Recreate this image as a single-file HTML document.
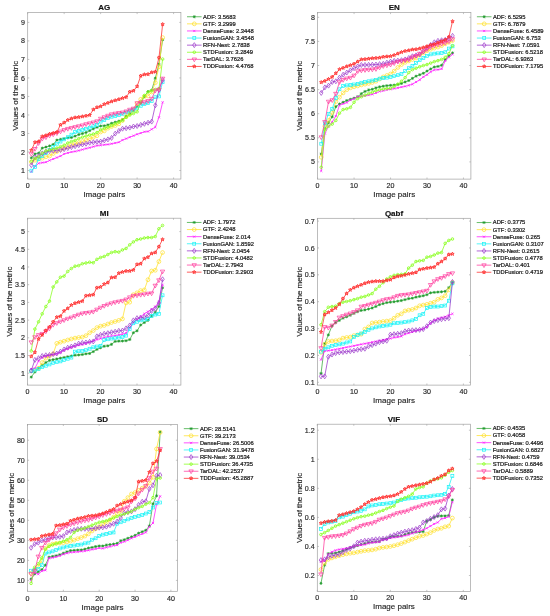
<!DOCTYPE html>
<html lang="en"><head><meta charset="utf-8"><title>Metrics</title>
<style>html,body{margin:0;padding:0;background:#fff}svg{display:block}text{font-family:"Liberation Sans",sans-serif}.k{font-size:7.1px;fill:#262626;stroke:#262626;stroke-width:.15px}.l{font-size:8px;fill:#262626;stroke:#262626;stroke-width:.15px}.t{font-size:8px;font-weight:bold;fill:#111;stroke:#111;stroke-width:.15px}.g{font-size:5.8px;fill:#1c1c1c;stroke:#1c1c1c;stroke-width:.22px}.s{fill:none;stroke-width:0.75;stroke-linejoin:round}</style></head><body>
<svg width="550" height="616" viewBox="0 0 550 616">
<defs>
<marker id="m0" markerUnits="userSpaceOnUse" markerWidth="8" markerHeight="8" refX="0" refY="0" viewBox="-4 -4 8 8" overflow="visible"><path d="M-1.5 -0L1.5 0M-1.06 -1.06L1.06 1.06M-0 -1.5L0 1.5M1.06 -1.06L-1.06 1.06" stroke="#1f9a2c" stroke-width="0.75" fill="none"/></marker>
<marker id="m1" markerUnits="userSpaceOnUse" markerWidth="8" markerHeight="8" refX="0" refY="0" viewBox="-4 -4 8 8" overflow="visible"><circle r="1.9" stroke="#ffe02a" stroke-width="0.7" fill="none"/></marker>
<marker id="m2" markerUnits="userSpaceOnUse" markerWidth="8" markerHeight="8" refX="0" refY="0" viewBox="-4 -4 8 8" overflow="visible"><path d="M-1.1 -1.1L1.1 1.1M-1.1 1.1L1.1 -1.1" stroke="#ff18ff" stroke-width="0.7" fill="none"/></marker>
<marker id="m3" markerUnits="userSpaceOnUse" markerWidth="8" markerHeight="8" refX="0" refY="0" viewBox="-4 -4 8 8" overflow="visible"><rect x="-1.45" y="-1.45" width="2.9" height="2.9" stroke="#19f3f7" stroke-width="0.7" fill="none"/></marker>
<marker id="m4" markerUnits="userSpaceOnUse" markerWidth="8" markerHeight="8" refX="0" refY="0" viewBox="-4 -4 8 8" overflow="visible"><path d="M0 -2.5L1.7 0L0 2.5L-1.7 0Z" stroke="#9a35c9" stroke-width="0.7" fill="none"/></marker>
<marker id="m5" markerUnits="userSpaceOnUse" markerWidth="8" markerHeight="8" refX="0" refY="0" viewBox="-4 -4 8 8" overflow="visible"><circle r="1.3" stroke="#86ff1a" stroke-width="0.8" fill="none"/></marker>
<marker id="m6" markerUnits="userSpaceOnUse" markerWidth="8" markerHeight="8" refX="0" refY="0" viewBox="-4 -4 8 8" overflow="visible"><path d="M-2.2 -1.32L2.2 -1.32L0 2.42Z" stroke="#ff3a9c" stroke-width="0.7" fill="none"/></marker>
<marker id="m7" markerUnits="userSpaceOnUse" markerWidth="8" markerHeight="8" refX="0" refY="0" viewBox="-4 -4 8 8" overflow="visible"><path d="M0 -1.8L0.42 -0.58L1.71 -0.56L0.68 0.22L1.06 1.46L0 0.72L-1.06 1.46L-0.68 0.22L-1.71 -0.56L-0.42 -0.58Z" stroke="#ff2a2a" stroke-width="0.85" fill="none"/></marker>
</defs>
<rect width="550" height="616" fill="#fff"/>
<g>
<polyline class="s" points="31.35,157.84 34.99,153.91 38.64,153.18 42.29,148.09 45.94,147.07 49.58,145.91 53.23,144.45 56.88,140.09 60.52,139.36 64.17,138.64 67.82,137.91 71.46,137.47 75.11,136.16 78.76,134.56 82.41,133.55 86.05,132.53 89.7,130.64 93.35,128.75 96.99,127.29 100.64,126 104.29,125.8 107.93,124.9 111.58,123.3 115.23,122.2 118.88,121.1 122.52,119.5 126.17,116.2 129.82,113.5 133.46,110.7 137.11,106.4 140.76,103.1 144.4,96.5 148.05,91.5 151.7,90.2 155.34,78.2 158.99,64.1 162.64,39.8" stroke="#35a83a" marker-start="url(#m0)" marker-mid="url(#m0)" marker-end="url(#m0)"/>
<polyline class="s" points="31.35,162 34.99,160.2 38.64,159 42.29,158.2 45.94,156.8 49.58,156 53.23,153.5 56.88,151.52 60.52,149.55 64.17,148.09 67.82,146.64 71.46,145.18 75.11,143.73 78.76,142.64 82.41,141.55 86.05,140.09 89.7,138.64 93.35,137.18 96.99,135.73 100.64,132 104.29,130.9 107.93,128.2 111.58,126.5 115.23,125.5 118.88,123.8 122.52,120.5 126.17,116.7 129.82,113.5 133.46,109.6 137.11,103.6 140.76,99.3 144.4,96.5 148.05,96 151.7,92 155.34,82.7 158.99,66.8 162.64,37.6" stroke="#ffe02a" marker-start="url(#m1)" marker-mid="url(#m1)" marker-end="url(#m1)"/>
<polyline class="s" points="31.35,171.8 34.99,166.27 38.64,163.36 42.29,162.64 45.94,162.2 49.58,160.45 53.23,159 56.88,157.55 60.52,156.09 64.17,153.91 67.82,152.89 71.46,152.02 75.11,151.44 78.76,150.56 82.41,149.55 86.05,148.53 89.7,147.65 93.35,146.64 96.99,145.62 100.64,145.18 104.29,144.75 107.93,144.45 111.58,143.73 115.23,143 118.88,142.27 122.52,140.09 126.17,138.64 129.82,137.18 133.46,135.73 137.11,134.27 140.76,133.11 144.4,131.8 148.05,131.5 151.7,129.3 155.34,127.1 158.99,117.3 162.64,102.3" stroke="#ff18ff" marker-start="url(#m2)" marker-mid="url(#m2)" marker-end="url(#m2)"/>
<polyline class="s" points="31.35,170.64 34.99,167 38.64,159 42.29,156.09 45.94,153.18 49.58,150.03 53.23,146.88 56.88,143.73 60.52,141.55 64.17,139.36 67.82,137.18 71.46,134.64 75.11,132.09 78.76,131 82.41,129.91 86.05,128.82 89.7,127.73 93.35,126.27 96.99,124.82 100.64,121.6 104.29,120 107.93,118.1 111.58,116.7 115.23,116 118.88,114.9 122.52,113.8 126.17,112.4 129.82,110.7 133.46,109.6 137.11,108.3 140.76,105.8 144.4,104.2 148.05,103.1 151.7,100.9 155.34,97.2 158.99,96.4 162.64,82" stroke="#19f3f7" marker-start="url(#m3)" marker-mid="url(#m3)" marker-end="url(#m3)"/>
<polyline class="s" points="31.35,165.11 34.99,157.25 38.64,155.95 42.29,153.33 45.94,151.73 49.58,151 53.23,150.71 56.88,150.42 60.52,149.98 64.17,149.11 67.82,148.09 71.46,147.07 75.11,146.2 78.76,145.18 82.41,144.45 86.05,143.73 89.7,142.71 93.35,142.27 96.99,141.84 100.64,141.55 104.29,140.38 107.93,139.36 111.58,137.91 115.23,133.6 118.88,130.9 122.52,128.7 126.17,128.2 129.82,127.6 133.46,126.5 137.11,126 140.76,124.9 144.4,123.8 148.05,122.7 151.7,121.6 155.34,105.3 158.99,90 162.64,80" stroke="#9a35c9" marker-start="url(#m4)" marker-mid="url(#m4)" marker-end="url(#m4)"/>
<polyline class="s" points="31.35,161.18 34.99,158.27 38.64,156.82 42.29,153.18 45.94,151 49.58,149.98 53.23,149.11 56.88,148.09 60.52,146.64 64.17,145.18 67.82,143 71.46,141.55 75.11,140.38 78.76,138.64 82.41,137.18 86.05,136.02 89.7,135 93.35,133.98 96.99,132.53 100.64,129.8 104.29,128.2 107.93,127.1 111.58,125.5 115.23,123.8 118.88,122.2 122.52,120.5 126.17,117.3 129.82,115.1 133.46,113.5 137.11,111.8 140.76,102 144.4,95.5 148.05,92 151.7,90.8 155.34,89.5 158.99,88.6 162.64,59.1" stroke="#86ff1a" marker-start="url(#m5)" marker-mid="url(#m5)" marker-end="url(#m5)"/>
<polyline class="s" points="31.35,153.91 34.99,148.82 38.64,143 42.29,138.64 45.94,137.18 49.58,135.44 53.23,134.27 56.88,133.11 60.52,131.36 64.17,129.91 67.82,128.75 71.46,127.87 75.11,127 78.76,126.13 82.41,125.25 86.05,124.09 89.7,123.22 93.35,122.35 96.99,121.18 100.64,118.6 104.29,117.1 107.93,115.6 111.58,114.2 115.23,113.5 118.88,112.9 122.52,112.4 126.17,111.3 129.82,109.6 133.46,108.5 137.11,103.1 140.76,102.5 144.4,102 148.05,100.9 151.7,98.7 155.34,90.5 158.99,89.5 162.64,78.5" stroke="#ff3a9c" marker-start="url(#m6)" marker-mid="url(#m6)" marker-end="url(#m6)"/>
<polyline class="s" points="31.35,150.27 34.99,142.27 38.64,141.55 42.29,136.45 45.94,135.44 49.58,133.98 53.23,133.11 56.88,132.09 60.52,124.82 64.17,122.64 67.82,120.02 71.46,118.56 75.11,117.55 78.76,117.11 82.41,116.53 86.05,115.8 89.7,115.07 93.35,109.55 96.99,107.36 100.64,106.4 104.29,104.2 107.93,102.9 111.58,101.5 115.23,100.4 118.88,99.3 122.52,98.2 126.17,97.1 129.82,91.8 133.46,90.8 137.11,86.4 140.76,75.8 144.4,74.5 148.05,74.2 151.7,72.4 155.34,71.8 158.99,57.7 162.64,24.3" stroke="#ff2a2a" marker-start="url(#m7)" marker-mid="url(#m7)" marker-end="url(#m7)"/>
<rect x="27.7" y="12.5" width="153.2" height="166.55" fill="none" stroke="#a0a0a0" stroke-width="0.7"/>
<text class="k" x="27.7" y="187.85" text-anchor="middle">0</text>
<text class="k" x="64.17" y="187.85" text-anchor="middle">10</text>
<text class="k" x="100.64" y="187.85" text-anchor="middle">20</text>
<text class="k" x="137.11" y="187.85" text-anchor="middle">30</text>
<text class="k" x="173.58" y="187.85" text-anchor="middle">40</text>
<text class="k" x="25" y="173.05" text-anchor="end">1</text>
<text class="k" x="25" y="154.54" text-anchor="end">2</text>
<text class="k" x="25" y="136.03" text-anchor="end">3</text>
<text class="k" x="25" y="117.52" text-anchor="end">4</text>
<text class="k" x="25" y="99.01" text-anchor="end">5</text>
<text class="k" x="25" y="80.5" text-anchor="end">6</text>
<text class="k" x="25" y="61.99" text-anchor="end">7</text>
<text class="k" x="25" y="43.48" text-anchor="end">8</text>
<text class="k" x="25" y="24.97" text-anchor="end">9</text>
<path d="M27.7 179.05v-1.6M27.7 12.5v1.6M64.17 179.05v-1.6M64.17 12.5v1.6M100.64 179.05v-1.6M100.64 12.5v1.6M137.11 179.05v-1.6M137.11 12.5v1.6M173.58 179.05v-1.6M173.58 12.5v1.6M27.7 170.5h1.6M180.9 170.5h-1.6M27.7 151.99h1.6M180.9 151.99h-1.6M27.7 133.48h1.6M180.9 133.48h-1.6M27.7 114.97h1.6M180.9 114.97h-1.6M27.7 96.46h1.6M180.9 96.46h-1.6M27.7 77.95h1.6M180.9 77.95h-1.6M27.7 59.44h1.6M180.9 59.44h-1.6M27.7 40.93h1.6M180.9 40.93h-1.6M27.7 22.42h1.6M180.9 22.42h-1.6" stroke="#a0a0a0" stroke-width="0.6" fill="none"/>
<text class="l" x="104.3" y="196.85" text-anchor="middle">Image pairs</text>
<text class="l" transform="translate(18.3 95.78) rotate(-90)" text-anchor="middle">Values of the metric</text>
<text class="t" x="104.3" y="10.4" text-anchor="middle">AG</text>
<polyline class="s" points="187,16.75 194.3,16.75 201.6,16.75" stroke="#35a83a" marker-mid="url(#m0)"/>
<text class="g" x="203.1" y="18.65">ADF: 3.5683</text>
<polyline class="s" points="187,23.85 194.3,23.85 201.6,23.85" stroke="#ffe02a" marker-mid="url(#m1)"/>
<text class="g" x="203.1" y="25.75">GTF: 3.2999</text>
<polyline class="s" points="187,30.95 194.3,30.95 201.6,30.95" stroke="#ff18ff" marker-mid="url(#m2)"/>
<text class="g" x="203.1" y="32.85">DenseFuse: 2.3448</text>
<polyline class="s" points="187,38.05 194.3,38.05 201.6,38.05" stroke="#19f3f7" marker-mid="url(#m3)"/>
<text class="g" x="203.1" y="39.95">FusionGAN: 3.4548</text>
<polyline class="s" points="187,45.15 194.3,45.15 201.6,45.15" stroke="#9a35c9" marker-mid="url(#m4)"/>
<text class="g" x="203.1" y="47.05">RFN-Nest: 2.7838</text>
<polyline class="s" points="187,52.25 194.3,52.25 201.6,52.25" stroke="#86ff1a" marker-mid="url(#m5)"/>
<text class="g" x="203.1" y="54.15">STDFusion: 3.2849</text>
<polyline class="s" points="187,59.35 194.3,59.35 201.6,59.35" stroke="#ff3a9c" marker-mid="url(#m6)"/>
<text class="g" x="203.1" y="61.25">TarDAL: 3.7626</text>
<polyline class="s" points="187,66.45 194.3,66.45 201.6,66.45" stroke="#ff2a2a" marker-mid="url(#m7)"/>
<text class="g" x="203.1" y="68.35">TDDFusion: 4.4768</text>
</g>
<g>
<polyline class="s" points="321.25,153.91 324.89,128.45 328.54,122.64 332.19,116.82 335.84,106.64 339.48,104.02 343.13,102.27 346.78,100.53 350.42,99.36 354.07,98.2 357.72,96.75 361.36,93.64 365.01,91.45 368.66,90 372.31,89.27 375.95,87.82 379.6,86.8 383.25,86.22 386.89,85.64 390.54,85.35 394.19,85.05 397.83,84.47 401.48,83.45 405.13,82 408.78,80.55 412.42,78.36 416.07,76.18 419.72,74.73 423.36,73.27 427.01,71.09 430.66,68.91 434.3,67.02 437.95,66.44 441.6,65.27 445.25,59.45 448.89,55.82 452.54,52.91" stroke="#35a83a" marker-start="url(#m0)" marker-mid="url(#m0)" marker-end="url(#m0)"/>
<polyline class="s" points="321.25,157.25 324.89,126.27 328.54,120.45 332.19,112.45 335.84,101.55 339.48,97.18 343.13,92.91 346.78,89.71 350.42,87.82 354.07,86.8 357.72,85.93 361.36,84.91 365.01,84.18 368.66,83.45 372.31,82.44 375.95,81.27 379.6,79.09 383.25,76.91 386.89,75.45 390.54,74 394.19,71.09 397.83,67.45 401.48,64.55 405.13,62.36 408.78,60.91 412.42,59.45 416.07,58 419.72,55.09 423.36,52.91 427.01,50.73 430.66,49.27 434.3,48.11 437.95,47.09 441.6,45.64 445.25,43.75 448.89,42.29 452.54,40.55" stroke="#ffe02a" marker-start="url(#m1)" marker-mid="url(#m1)" marker-end="url(#m1)"/>
<polyline class="s" points="321.25,170.93 324.89,133.55 328.54,126.27 332.19,121.91 335.84,116.09 339.48,105.18 343.13,103.73 346.78,102.56 350.42,100.09 354.07,98.64 357.72,96.75 361.36,96.16 365.01,95.73 368.66,95.09 372.31,94.36 375.95,92.91 379.6,91.45 383.25,90.73 386.89,89.71 390.54,89.27 394.19,88.55 397.83,87.82 401.48,87.09 405.13,86.36 408.78,85.35 412.42,84.18 416.07,82 419.72,79.82 423.36,76.91 427.01,74.73 430.66,71.82 434.3,69.93 437.95,69.64 441.6,68.91 445.25,60.91 448.89,57.27 452.54,54.36" stroke="#ff18ff" marker-start="url(#m2)" marker-mid="url(#m2)" marker-end="url(#m2)"/>
<polyline class="s" points="321.25,143.73 324.89,123.36 328.54,113.91 332.19,108.82 335.84,97.91 339.48,89.27 343.13,85.93 346.78,85.35 350.42,84.91 354.07,84.47 357.72,83.89 361.36,82.73 365.01,82 368.66,81.27 372.31,80.55 375.95,79.82 379.6,78.65 383.25,78.07 386.89,77.64 390.54,76.91 394.19,76.18 397.83,75.16 401.48,74 405.13,71.09 408.78,68.18 412.42,66 416.07,63.09 419.72,60.18 423.36,58 427.01,55.82 430.66,54.36 434.3,53.64 437.95,53.35 441.6,52.91 445.25,52.18 448.89,48.55 452.54,46.36" stroke="#19f3f7" marker-start="url(#m3)" marker-mid="url(#m3)" marker-end="url(#m3)"/>
<polyline class="s" points="321.25,92.91 324.89,87.38 328.54,85.64 332.19,82 335.84,81.27 339.48,77.64 343.13,74.73 346.78,72.55 350.42,70.36 354.07,68.18 357.72,66.44 361.36,64.98 365.01,64.98 368.66,64.84 372.31,64.69 375.95,64.55 379.6,64.11 383.25,63.82 386.89,62.65 390.54,61.64 394.19,60.91 397.83,60.62 401.48,60.18 405.13,59.45 408.78,58 412.42,56.25 416.07,55.38 419.72,54.36 423.36,51.45 427.01,47.82 430.66,44.91 434.3,42.29 437.95,40.84 441.6,40.25 445.25,39.82 448.89,38.36 452.54,35.89" stroke="#9a35c9" marker-start="url(#m4)" marker-mid="url(#m4)" marker-end="url(#m4)"/>
<polyline class="s" points="321.25,167.29 324.89,129.91 328.54,126.27 332.19,124.09 335.84,120.45 339.48,113.18 343.13,109.55 346.78,108.82 350.42,107.36 354.07,102.27 357.72,98.64 361.36,96.75 365.01,95.09 368.66,93.64 372.31,92.18 375.95,90.73 379.6,89.71 383.25,88.98 386.89,88.55 390.54,88.25 394.19,86.36 397.83,84.18 401.48,81.27 405.13,77.64 408.78,72.55 412.42,69.64 416.07,68.18 419.72,66.73 423.36,65.56 427.01,64.55 430.66,63.09 434.3,61.64 437.95,60.62 441.6,59.45 445.25,57.27 448.89,53.64 452.54,45.64" stroke="#86ff1a" marker-start="url(#m5)" marker-mid="url(#m5)" marker-end="url(#m5)"/>
<polyline class="s" points="321.25,137.18 324.89,121.91 328.54,101.55 332.19,100.09 335.84,93.64 339.48,82 343.13,79.82 346.78,78.36 350.42,77.64 354.07,75.45 357.72,71.09 361.36,70.36 365.01,69.93 368.66,69.64 372.31,69.35 375.95,68.91 379.6,67.45 383.25,66 386.89,65.27 390.54,64.55 394.19,63.09 397.83,61.64 401.48,60.91 405.13,60.18 408.78,59.45 412.42,57.27 416.07,55.82 419.72,53.64 423.36,51.45 427.01,49.27 430.66,47.09 434.3,45.64 437.95,44.62 441.6,43.75 445.25,42.73 448.89,41.27 452.54,39.09" stroke="#ff3a9c" marker-start="url(#m6)" marker-mid="url(#m6)" marker-end="url(#m6)"/>
<polyline class="s" points="321.25,82.29 324.89,80.98 328.54,79.09 332.19,76.91 335.84,73.27 339.48,69.35 343.13,67.89 346.78,66.44 350.42,65.27 354.07,63.82 357.72,61.64 361.36,59.45 365.01,59.16 368.66,58.73 372.31,58.29 375.95,58 379.6,57.71 383.25,56.84 386.89,56.55 390.54,56.25 394.19,55.09 397.83,53.64 401.48,52.18 405.13,51.02 408.78,50.44 412.42,49.56 416.07,49.27 419.72,48.55 423.36,47.53 427.01,46.36 430.66,44.91 434.3,44.18 437.95,42.73 441.6,41.27 445.25,39.82 448.89,36.91 452.54,21.35" stroke="#ff2a2a" marker-start="url(#m7)" marker-mid="url(#m7)" marker-end="url(#m7)"/>
<rect x="317.6" y="12.5" width="153.3" height="166.6" fill="none" stroke="#a0a0a0" stroke-width="0.7"/>
<text class="k" x="317.6" y="187.9" text-anchor="middle">0</text>
<text class="k" x="354.07" y="187.9" text-anchor="middle">10</text>
<text class="k" x="390.54" y="187.9" text-anchor="middle">20</text>
<text class="k" x="427.01" y="187.9" text-anchor="middle">30</text>
<text class="k" x="463.48" y="187.9" text-anchor="middle">40</text>
<text class="k" x="314.9" y="164.45" text-anchor="end">5</text>
<text class="k" x="314.9" y="140.35" text-anchor="end">5.5</text>
<text class="k" x="314.9" y="116.25" text-anchor="end">6</text>
<text class="k" x="314.9" y="92.15" text-anchor="end">6.5</text>
<text class="k" x="314.9" y="68.05" text-anchor="end">7</text>
<text class="k" x="314.9" y="43.95" text-anchor="end">7.5</text>
<text class="k" x="314.9" y="19.85" text-anchor="end">8</text>
<path d="M317.6 179.1v-1.6M317.6 12.5v1.6M354.07 179.1v-1.6M354.07 12.5v1.6M390.54 179.1v-1.6M390.54 12.5v1.6M427.01 179.1v-1.6M427.01 12.5v1.6M463.48 179.1v-1.6M463.48 12.5v1.6M317.6 161.9h1.6M470.9 161.9h-1.6M317.6 137.8h1.6M470.9 137.8h-1.6M317.6 113.7h1.6M470.9 113.7h-1.6M317.6 89.6h1.6M470.9 89.6h-1.6M317.6 65.5h1.6M470.9 65.5h-1.6M317.6 41.4h1.6M470.9 41.4h-1.6M317.6 17.3h1.6M470.9 17.3h-1.6" stroke="#a0a0a0" stroke-width="0.6" fill="none"/>
<text class="l" x="394.25" y="196.9" text-anchor="middle">Image pairs</text>
<text class="l" transform="translate(301.9 95.8) rotate(-90)" text-anchor="middle">Values of the metric</text>
<text class="t" x="394.25" y="10.4" text-anchor="middle">EN</text>
<polyline class="s" points="476.9,16.75 484.2,16.75 491.5,16.75" stroke="#35a83a" marker-mid="url(#m0)"/>
<text class="g" x="493" y="18.65">ADF: 6.5295</text>
<polyline class="s" points="476.9,23.85 484.2,23.85 491.5,23.85" stroke="#ffe02a" marker-mid="url(#m1)"/>
<text class="g" x="493" y="25.75">GTF: 6.7879</text>
<polyline class="s" points="476.9,30.95 484.2,30.95 491.5,30.95" stroke="#ff18ff" marker-mid="url(#m2)"/>
<text class="g" x="493" y="32.85">DenseFuse: 6.4589</text>
<polyline class="s" points="476.9,38.05 484.2,38.05 491.5,38.05" stroke="#19f3f7" marker-mid="url(#m3)"/>
<text class="g" x="493" y="39.95">FusionGAN: 6.753</text>
<polyline class="s" points="476.9,45.15 484.2,45.15 491.5,45.15" stroke="#9a35c9" marker-mid="url(#m4)"/>
<text class="g" x="493" y="47.05">RFN-Nest: 7.0591</text>
<polyline class="s" points="476.9,52.25 484.2,52.25 491.5,52.25" stroke="#86ff1a" marker-mid="url(#m5)"/>
<text class="g" x="493" y="54.15">STDFusion: 6.5218</text>
<polyline class="s" points="476.9,59.35 484.2,59.35 491.5,59.35" stroke="#ff3a9c" marker-mid="url(#m6)"/>
<text class="g" x="493" y="61.25">TarDAL: 6.9363</text>
<polyline class="s" points="476.9,66.45 484.2,66.45 491.5,66.45" stroke="#ff2a2a" marker-mid="url(#m7)"/>
<text class="g" x="493" y="68.35">TDDFusion: 7.1795</text>
</g>
<g>
<polyline class="s" points="31.25,377.09 34.89,372 38.54,368.07 42.19,365.16 45.84,362.55 49.48,360.36 53.13,359.64 56.78,358.91 60.42,358.18 64.07,357.45 67.72,356.73 71.36,356 75.01,355.27 78.66,354.98 82.31,354.55 85.95,353.82 89.6,353.53 93.25,351.64 96.89,349.45 100.54,347.71 104.19,346.25 107.83,345.82 111.48,344.36 115.13,341.45 118.78,341.16 122.42,341.02 126.07,340.73 129.72,339.56 133.36,332.73 137.01,330.84 140.66,325.02 144.3,322.55 147.95,320.36 151.6,316 155.25,312.36 158.89,306.55 162.54,287.73" stroke="#35a83a" marker-start="url(#m0)" marker-mid="url(#m0)" marker-end="url(#m0)"/>
<polyline class="s" points="31.25,370.98 34.89,369.82 38.54,368.36 42.19,362.55 45.84,358.18 49.48,356 53.13,353.82 56.78,343.35 60.42,342.18 64.07,341.16 67.72,340 71.36,338.98 75.01,338.11 78.66,337.53 82.31,337.09 85.95,335.64 89.6,332.73 93.25,330.55 96.89,327.64 100.54,326.18 104.19,325.45 107.83,324 111.48,322.55 115.13,321.53 118.78,320.36 122.42,318.91 126.07,302.91 129.72,302.18 133.36,294.71 137.01,292.82 140.66,290.64 144.3,289.91 147.95,279.73 151.6,271 155.25,270.27 158.89,261.55 162.54,252.53" stroke="#ffe02a" marker-start="url(#m1)" marker-mid="url(#m1)" marker-end="url(#m1)"/>
<polyline class="s" points="31.25,369.09 34.89,368.36 38.54,361.09 42.19,357.45 45.84,356 49.48,355.27 53.13,354.55 56.78,353.82 60.42,352.36 64.07,350.18 67.72,348.73 71.36,347.27 75.01,346.25 78.66,345.09 82.31,344.36 85.95,343.35 89.6,342.18 93.25,341.02 96.89,339.56 100.54,338.55 104.19,337.53 107.83,336.65 111.48,336.07 115.13,335.64 118.78,334.91 122.42,334.18 126.07,333.16 129.72,327.64 133.36,322.55 137.01,319.64 140.66,316.73 144.3,313.82 147.95,311.64 151.6,309.45 155.25,306.55 158.89,302.18 162.54,284.82" stroke="#ff18ff" marker-start="url(#m2)" marker-mid="url(#m2)" marker-end="url(#m2)"/>
<polyline class="s" points="31.25,371.27 34.89,370.4 38.54,369.09 42.19,367.2 45.84,365.75 49.48,364.44 53.13,362.84 56.78,362.11 60.42,361.38 64.07,359.93 67.72,358.76 71.36,357.6 75.01,351.64 78.66,351.2 82.31,350.91 85.95,350.18 89.6,348.73 93.25,347.27 96.89,346.55 100.54,345.82 104.19,340 107.83,339.27 111.48,338.55 115.13,338.11 118.78,337.53 122.42,337.09 126.07,335.64 129.72,329.09 133.36,323.27 137.01,321.82 140.66,320.36 144.3,319.64 147.95,318.91 151.6,316 155.25,314.55 158.89,313.82 162.54,295.29" stroke="#19f3f7" marker-start="url(#m3)" marker-mid="url(#m3)" marker-end="url(#m3)"/>
<polyline class="s" points="31.25,370.55 34.89,359.93 38.54,358.18 42.19,356 45.84,355.27 49.48,354.98 53.13,354.11 56.78,353.53 60.42,351.64 64.07,349.45 67.72,347.71 71.36,346.55 75.01,345.38 78.66,343.64 82.31,342.91 85.95,342.47 89.6,341.89 93.25,341.45 96.89,336.36 100.54,334.91 104.19,333.75 107.83,333.16 111.48,332.29 115.13,331.71 118.78,330.84 122.42,330.55 126.07,328.36 129.72,325.45 133.36,320.36 137.01,318.18 140.66,317.75 144.3,317.16 147.95,315.27 151.6,310.91 155.25,308.73 158.89,302.91 162.54,279.29" stroke="#9a35c9" marker-start="url(#m4)" marker-mid="url(#m4)" marker-end="url(#m4)"/>
<polyline class="s" points="31.25,350.91 34.89,329.09 38.54,321.82 42.19,313.82 45.84,306.55 49.48,301.16 53.13,287 56.78,281.91 60.42,277.25 64.07,276.09 67.72,271.44 71.36,268.53 75.01,266.2 78.66,265.62 82.31,263.73 85.95,263 89.6,262.27 93.25,262.71 96.89,259.36 100.54,257.47 104.19,256.45 107.83,254.56 111.48,252.53 115.13,251.65 118.78,252.09 122.42,249.91 126.07,248.45 129.72,244.82 133.36,241.91 137.01,239.73 140.66,239 144.3,237.98 147.95,237.55 151.6,237.55 155.25,236.53 158.89,228.82 162.54,225.47" stroke="#86ff1a" marker-start="url(#m5)" marker-mid="url(#m5)" marker-end="url(#m5)"/>
<polyline class="s" points="31.25,342.18 34.89,337.09 38.54,334.91 42.19,333.75 45.84,331.27 49.48,328.36 53.13,324.73 56.78,322.98 60.42,321.53 64.07,320.07 67.72,318.62 71.36,317.45 75.01,316 78.66,314.55 82.31,313.38 85.95,312.8 89.6,312.36 93.25,311.64 96.89,309.45 100.54,307.56 104.19,305.82 107.83,304.36 111.48,303.2 115.13,302.18 118.78,301.45 122.42,300.73 126.07,299.36 129.72,297.18 133.36,295.73 137.01,295.29 140.66,294.71 144.3,294.27 147.95,293.55 151.6,293.25 155.25,285.55 158.89,280.16 162.54,271.44" stroke="#ff3a9c" marker-start="url(#m6)" marker-mid="url(#m6)" marker-end="url(#m6)"/>
<polyline class="s" points="31.25,356.44 34.89,352.36 38.54,338.98 42.19,334.91 45.84,330.55 49.48,326.91 53.13,321.82 56.78,317.16 60.42,316.29 64.07,310.91 67.72,308.44 71.36,305.09 75.01,303.2 78.66,302.18 82.31,301.16 85.95,295.73 89.6,295.29 93.25,294.71 96.89,287.73 100.54,287 104.19,284.09 107.83,282.64 111.48,277.55 115.13,277.25 118.78,273.18 122.42,272.02 126.07,271 129.72,271 133.36,269.98 137.01,264.45 140.66,263.73 144.3,258.64 147.95,257.18 151.6,253.55 155.25,252.53 158.89,246.71 162.54,239.44" stroke="#ff2a2a" marker-start="url(#m7)" marker-mid="url(#m7)" marker-end="url(#m7)"/>
<rect x="27.6" y="218.2" width="153.3" height="166.9" fill="none" stroke="#a0a0a0" stroke-width="0.7"/>
<text class="k" x="27.6" y="393.9" text-anchor="middle">0</text>
<text class="k" x="64.07" y="393.9" text-anchor="middle">10</text>
<text class="k" x="100.54" y="393.9" text-anchor="middle">20</text>
<text class="k" x="137.01" y="393.9" text-anchor="middle">30</text>
<text class="k" x="173.48" y="393.9" text-anchor="middle">40</text>
<text class="k" x="24.9" y="375.75" text-anchor="end">1</text>
<text class="k" x="24.9" y="358.05" text-anchor="end">1.5</text>
<text class="k" x="24.9" y="340.35" text-anchor="end">2</text>
<text class="k" x="24.9" y="322.65" text-anchor="end">2.5</text>
<text class="k" x="24.9" y="304.95" text-anchor="end">3</text>
<text class="k" x="24.9" y="287.25" text-anchor="end">3.5</text>
<text class="k" x="24.9" y="269.55" text-anchor="end">4</text>
<text class="k" x="24.9" y="251.85" text-anchor="end">4.5</text>
<text class="k" x="24.9" y="234.15" text-anchor="end">5</text>
<path d="M27.6 385.1v-1.6M27.6 218.2v1.6M64.07 385.1v-1.6M64.07 218.2v1.6M100.54 385.1v-1.6M100.54 218.2v1.6M137.01 385.1v-1.6M137.01 218.2v1.6M173.48 385.1v-1.6M173.48 218.2v1.6M27.6 373.2h1.6M180.9 373.2h-1.6M27.6 355.5h1.6M180.9 355.5h-1.6M27.6 337.8h1.6M180.9 337.8h-1.6M27.6 320.1h1.6M180.9 320.1h-1.6M27.6 302.4h1.6M180.9 302.4h-1.6M27.6 284.7h1.6M180.9 284.7h-1.6M27.6 267h1.6M180.9 267h-1.6M27.6 249.3h1.6M180.9 249.3h-1.6M27.6 231.6h1.6M180.9 231.6h-1.6" stroke="#a0a0a0" stroke-width="0.6" fill="none"/>
<text class="l" x="104.25" y="402.9" text-anchor="middle">Image pairs</text>
<text class="l" transform="translate(11.8 301.65) rotate(-90)" text-anchor="middle">Values of the metric</text>
<text class="t" x="104.25" y="216.1" text-anchor="middle">MI</text>
<polyline class="s" points="186.9,222.45 194.2,222.45 201.5,222.45" stroke="#35a83a" marker-mid="url(#m0)"/>
<text class="g" x="203" y="224.35">ADF: 1.7972</text>
<polyline class="s" points="186.9,229.55 194.2,229.55 201.5,229.55" stroke="#ffe02a" marker-mid="url(#m1)"/>
<text class="g" x="203" y="231.45">GTF: 2.4248</text>
<polyline class="s" points="186.9,236.65 194.2,236.65 201.5,236.65" stroke="#ff18ff" marker-mid="url(#m2)"/>
<text class="g" x="203" y="238.55">DenseFuse: 2.014</text>
<polyline class="s" points="186.9,243.75 194.2,243.75 201.5,243.75" stroke="#19f3f7" marker-mid="url(#m3)"/>
<text class="g" x="203" y="245.65">FusionGAN: 1.8592</text>
<polyline class="s" points="186.9,250.85 194.2,250.85 201.5,250.85" stroke="#9a35c9" marker-mid="url(#m4)"/>
<text class="g" x="203" y="252.75">RFN-Nest: 2.0454</text>
<polyline class="s" points="186.9,257.95 194.2,257.95 201.5,257.95" stroke="#86ff1a" marker-mid="url(#m5)"/>
<text class="g" x="203" y="259.85">STDFusion: 4.0482</text>
<polyline class="s" points="186.9,265.05 194.2,265.05 201.5,265.05" stroke="#ff3a9c" marker-mid="url(#m6)"/>
<text class="g" x="203" y="266.95">TarDAL: 2.7943</text>
<polyline class="s" points="186.9,272.15 194.2,272.15 201.5,272.15" stroke="#ff2a2a" marker-mid="url(#m7)"/>
<text class="g" x="203" y="274.05">TDDFusion: 3.2903</text>
</g>
<g>
<polyline class="s" points="321.05,373.45 324.7,343.64 328.35,334.91 332,325.89 335.65,322.55 339.3,320.36 342.95,318.18 346.6,316.73 350.25,315.27 353.9,313.38 357.55,311.64 361.2,310.47 364.85,309.89 368.5,309.02 372.15,308 375.8,306.55 379.45,304.65 383.1,303.64 386.75,302.62 390.4,302.18 394.05,301.75 397.7,301.16 401.35,300.58 405,299.65 408.65,298.64 412.3,298.2 415.95,297.18 419.6,296.45 423.25,295.73 426.9,294.71 430.55,292.82 434.2,292.38 437.85,292.09 441.5,291.8 445.15,291.36 448.8,287.73 452.45,282.2" stroke="#35a83a" marker-start="url(#m0)" marker-mid="url(#m0)" marker-end="url(#m0)"/>
<polyline class="s" points="321.05,352.36 324.7,344.36 328.35,341.45 332,341.02 335.65,340.73 339.3,340 342.95,338.11 346.6,337.53 350.25,337.09 353.9,335.64 357.55,334.91 361.2,334.18 364.85,329.09 368.5,326.91 372.15,322.98 375.8,322.55 379.45,322.11 383.1,321.53 386.75,321.09 390.4,320.65 394.05,318.18 397.7,315.27 401.35,313.82 405,310.91 408.65,310.18 412.3,309.45 415.95,308 419.6,305.82 423.25,305.09 426.9,304.36 430.55,303.2 434.2,302.18 437.85,299.36 441.5,297.91 445.15,295.73 448.8,289.91 452.45,282.64" stroke="#ffe02a" marker-start="url(#m1)" marker-mid="url(#m1)" marker-end="url(#m1)"/>
<polyline class="s" points="321.05,359.64 324.7,350.91 328.35,350.62 332,350.18 335.65,349.45 339.3,348.73 342.95,348 346.6,347.27 350.25,346.55 353.9,345.82 357.55,345.09 361.2,344.36 364.85,343.64 368.5,342.91 372.15,342.18 375.8,341.45 379.45,340.73 383.1,340 386.75,339.27 390.4,338.55 394.05,337.53 397.7,337.09 401.35,336.36 405,334.18 408.65,333.16 412.3,332 415.95,330.84 419.6,329.82 423.25,328.8 426.9,326.91 430.55,323.27 434.2,320.36 437.85,318.62 441.5,317.75 445.15,316.73 448.8,315.27 452.45,313.82" stroke="#ff18ff" marker-start="url(#m2)" marker-mid="url(#m2)" marker-end="url(#m2)"/>
<polyline class="s" points="321.05,351.64 324.7,348.73 328.35,347.27 332,345.82 335.65,345.09 339.3,344.36 342.95,343.64 346.6,342.47 350.25,341.45 353.9,337.09 357.55,334.91 361.2,333.45 364.85,332 368.5,329.82 372.15,328.36 375.8,327.35 379.45,326.47 383.1,325.89 386.75,325.45 390.4,324.73 394.05,323.27 397.7,322.98 401.35,322.55 405,322.11 408.65,321.53 412.3,320.36 415.95,318.91 419.6,315.27 423.25,313.82 426.9,308 430.55,306.98 434.2,306.55 437.85,306.55 441.5,306.11 445.15,305.53 448.8,300.73 452.45,283.36" stroke="#19f3f7" marker-start="url(#m3)" marker-mid="url(#m3)" marker-end="url(#m3)"/>
<polyline class="s" points="321.05,376.36 324.7,376.36 328.35,356.73 332,354.55 335.65,353.09 339.3,352.36 342.95,352.07 346.6,351.64 350.25,351.2 353.9,350.62 357.55,349.75 361.2,349.16 364.85,348.73 368.5,346.25 372.15,345.09 375.8,343.64 379.45,342.18 383.1,341.45 386.75,340.73 390.4,334.62 394.05,334.18 397.7,333.75 401.35,333.16 405,331.27 408.65,330.55 412.3,330.25 415.95,330.11 419.6,329.82 423.25,329.09 426.9,326.18 430.55,322.55 434.2,321.09 437.85,320.07 441.5,319.2 445.15,318.62 448.8,318.18 452.45,281.91" stroke="#9a35c9" marker-start="url(#m4)" marker-mid="url(#m4)" marker-end="url(#m4)"/>
<polyline class="s" points="321.05,324.73 324.7,311.64 328.35,307.27 332,306.55 335.65,306.11 339.3,303.64 342.95,302.18 346.6,301.45 350.25,300.73 353.9,299.65 357.55,298.64 361.2,297.18 364.85,296.45 368.5,295 372.15,293.55 375.8,289.18 379.45,286.27 383.1,282.64 386.75,279 390.4,276.82 394.05,275.36 397.7,274.64 401.35,274.35 405,273.91 408.65,268.09 412.3,265.18 415.95,261.55 419.6,260.82 423.25,260.38 426.9,257.18 430.55,256.45 434.2,255 437.85,253.11 441.5,252.53 445.15,243.36 448.8,240.45 452.45,239" stroke="#86ff1a" marker-start="url(#m5)" marker-mid="url(#m5)" marker-end="url(#m5)"/>
<polyline class="s" points="321.05,348 324.7,326.91 328.35,327.64 332,325.45 335.65,321.82 339.3,317.45 342.95,316 346.6,314.55 350.25,313.38 353.9,311.93 357.55,310.18 361.2,306.55 364.85,305.82 368.5,304.65 372.15,303.64 375.8,302.62 379.45,301.45 383.1,300.09 386.75,299.07 390.4,298.64 394.05,297.18 397.7,295.73 401.35,295 405,294.71 408.65,294.27 412.3,293.55 415.95,292.82 419.6,292.09 423.25,291.36 426.9,290.64 430.55,284.82 434.2,281.18 437.85,279 441.5,277.84 445.15,276.09 448.8,273.91 452.45,273.18" stroke="#ff3a9c" marker-start="url(#m6)" marker-mid="url(#m6)" marker-end="url(#m6)"/>
<polyline class="s" points="321.05,332 324.7,314.55 328.35,312.36 332,310.18 335.65,308 339.3,304.36 342.95,298.64 346.6,293.55 350.25,289.91 353.9,287.73 357.55,286.27 361.2,284.82 364.85,283.36 368.5,282.2 372.15,281.62 375.8,281.18 379.45,281.18 383.1,281.18 386.75,280.45 390.4,279.73 394.05,277.55 397.7,276.38 401.35,275.8 405,274.93 408.65,273.91 412.3,273.18 415.95,272.45 419.6,269.55 423.25,268.82 426.9,268.09 430.55,267.65 434.2,267.07 437.85,263.73 441.5,261.55 445.15,258.64 448.8,254.56 452.45,253.98" stroke="#ff2a2a" marker-start="url(#m7)" marker-mid="url(#m7)" marker-end="url(#m7)"/>
<rect x="317.4" y="218.3" width="153.2" height="166.8" fill="none" stroke="#a0a0a0" stroke-width="0.7"/>
<text class="k" x="317.4" y="393.9" text-anchor="middle">0</text>
<text class="k" x="353.9" y="393.9" text-anchor="middle">10</text>
<text class="k" x="390.4" y="393.9" text-anchor="middle">20</text>
<text class="k" x="426.9" y="393.9" text-anchor="middle">30</text>
<text class="k" x="463.4" y="393.9" text-anchor="middle">40</text>
<text class="k" x="314.7" y="384.85" text-anchor="end">0.1</text>
<text class="k" x="314.7" y="357.98" text-anchor="end">0.2</text>
<text class="k" x="314.7" y="331.11" text-anchor="end">0.3</text>
<text class="k" x="314.7" y="304.24" text-anchor="end">0.4</text>
<text class="k" x="314.7" y="277.37" text-anchor="end">0.5</text>
<text class="k" x="314.7" y="250.5" text-anchor="end">0.6</text>
<text class="k" x="314.7" y="223.63" text-anchor="end">0.7</text>
<path d="M317.4 385.1v-1.6M317.4 218.3v1.6M353.9 385.1v-1.6M353.9 218.3v1.6M390.4 385.1v-1.6M390.4 218.3v1.6M426.9 385.1v-1.6M426.9 218.3v1.6M463.4 385.1v-1.6M463.4 218.3v1.6M317.4 382.3h1.6M470.6 382.3h-1.6M317.4 355.43h1.6M470.6 355.43h-1.6M317.4 328.56h1.6M470.6 328.56h-1.6M317.4 301.69h1.6M470.6 301.69h-1.6M317.4 274.82h1.6M470.6 274.82h-1.6M317.4 247.95h1.6M470.6 247.95h-1.6M317.4 221.08h1.6M470.6 221.08h-1.6" stroke="#a0a0a0" stroke-width="0.6" fill="none"/>
<text class="l" x="394" y="402.9" text-anchor="middle">Image pairs</text>
<text class="l" transform="translate(301.7 301.7) rotate(-90)" text-anchor="middle">Values of the metric</text>
<text class="t" x="394" y="216.2" text-anchor="middle">Qabf</text>
<polyline class="s" points="476.7,222.55 484,222.55 491.3,222.55" stroke="#35a83a" marker-mid="url(#m0)"/>
<text class="g" x="492.8" y="224.45">ADF: 0.3775</text>
<polyline class="s" points="476.7,229.65 484,229.65 491.3,229.65" stroke="#ffe02a" marker-mid="url(#m1)"/>
<text class="g" x="492.8" y="231.55">GTF: 0.3302</text>
<polyline class="s" points="476.7,236.75 484,236.75 491.3,236.75" stroke="#ff18ff" marker-mid="url(#m2)"/>
<text class="g" x="492.8" y="238.65">DenseFuse: 0.265</text>
<polyline class="s" points="476.7,243.85 484,243.85 491.3,243.85" stroke="#19f3f7" marker-mid="url(#m3)"/>
<text class="g" x="492.8" y="245.75">FusionGAN: 0.3107</text>
<polyline class="s" points="476.7,250.95 484,250.95 491.3,250.95" stroke="#9a35c9" marker-mid="url(#m4)"/>
<text class="g" x="492.8" y="252.85">RFN-Nest: 0.2615</text>
<polyline class="s" points="476.7,258.05 484,258.05 491.3,258.05" stroke="#86ff1a" marker-mid="url(#m5)"/>
<text class="g" x="492.8" y="259.95">STDFusion: 0.4778</text>
<polyline class="s" points="476.7,265.15 484,265.15 491.3,265.15" stroke="#ff3a9c" marker-mid="url(#m6)"/>
<text class="g" x="492.8" y="267.05">TarDAL: 0.401</text>
<polyline class="s" points="476.7,272.25 484,272.25 491.3,272.25" stroke="#ff2a2a" marker-mid="url(#m7)"/>
<text class="g" x="492.8" y="274.15">TDDFusion: 0.4719</text>
</g>
<g>
<polyline class="s" points="31.09,579 34.67,573.91 38.25,571.73 41.84,569.55 45.42,565.18 49.01,557.18 52.59,556.45 56.18,555.73 59.77,554.71 63.35,553.25 66.94,551.8 70.52,550.64 74.1,550.35 77.69,550.05 81.28,549.91 84.86,549.18 88.44,548.02 92.03,547.44 95.61,546.56 99.2,545.98 102.78,545.98 106.37,545.11 109.95,544.53 113.54,544.09 117.12,543.36 120.71,540.75 124.3,539.73 127.88,538.27 131.47,536.82 135.05,535.36 138.63,533.18 142.22,531.73 145.81,530.27 149.39,525.91 152.97,503.8 156.56,495.8 160.15,431.9" stroke="#35a83a" marker-start="url(#m0)" marker-mid="url(#m0)" marker-end="url(#m0)"/>
<polyline class="s" points="31.09,573.18 34.67,569.55 38.25,566.64 41.84,560.82 45.42,548.45 49.01,545.55 52.59,544.09 56.18,543.36 59.77,543.07 63.35,542.64 66.94,541.91 70.52,541.18 74.1,540.16 77.69,538.71 81.28,537.55 84.86,536.09 88.44,533.91 92.03,531 95.61,528.82 99.2,526.64 102.78,524.16 106.37,522.27 109.95,520.09 113.54,517.18 117.12,513.55 120.71,510.64 124.3,501.27 127.88,497.64 131.47,494 135.05,492.55 138.63,490.36 142.22,488.18 145.81,486 149.39,483.09 152.97,477.27 156.56,448.91 160.15,432.47" stroke="#ffe02a" marker-start="url(#m1)" marker-mid="url(#m1)" marker-end="url(#m1)"/>
<polyline class="s" points="31.09,580.45 34.67,572.45 38.25,574.2 41.84,571 45.42,570.27 49.01,558.2 52.59,557.62 56.18,556.75 59.77,555.73 63.35,554.27 66.94,553.25 70.52,552.38 74.1,552.09 77.69,551.8 81.28,551.36 84.86,550.93 88.44,550.35 92.03,549.47 95.61,548.89 99.2,548.02 102.78,548.45 106.37,547.44 109.95,546.56 113.54,545.55 117.12,545.11 120.71,542.64 124.3,541.62 127.88,540.16 131.47,538.27 135.05,536.82 138.63,535.36 142.22,533.91 145.81,532.45 149.39,526.64 152.97,523 156.56,504.3 160.15,496.3" stroke="#ff18ff" marker-start="url(#m2)" marker-mid="url(#m2)" marker-end="url(#m2)"/>
<polyline class="s" points="31.09,570.71 34.67,569.84 38.25,568.82 41.84,565.18 45.42,553.55 49.01,552.38 52.59,551.36 56.18,549.91 59.77,548.45 63.35,547.44 66.94,546.56 70.52,545.98 74.1,545.55 77.69,544.82 81.28,544.53 84.86,543.36 88.44,542.64 92.03,539.73 95.61,538.27 99.2,536.09 102.78,534.64 106.37,533.91 109.95,533.18 113.54,532.45 117.12,523.73 120.71,522.27 124.3,520.82 127.88,519.36 131.47,517.91 135.05,516.89 138.63,516.02 142.22,515 145.81,513.55 149.39,512.09 152.97,507.5 156.56,503 160.15,502.5" stroke="#19f3f7" marker-start="url(#m3)" marker-mid="url(#m3)" marker-end="url(#m3)"/>
<polyline class="s" points="31.09,547.73 34.67,544.09 38.25,542.64 41.84,540.45 45.42,539.73 49.01,538.27 52.59,537.55 56.18,537.25 59.77,536.82 63.35,536.09 66.94,532.45 70.52,531 74.1,529.98 77.69,529.11 81.28,528.82 84.86,528.82 88.44,528.82 92.03,528.53 95.61,528.09 99.2,527.65 102.78,527.36 106.37,526.64 109.95,525.18 113.54,523.73 117.12,521.55 120.71,517.91 124.3,512.82 127.88,512.09 131.47,511.36 135.05,509.18 138.63,504.91 142.22,501.71 145.81,501.27 149.39,488.91 152.97,485.27 156.56,475.82 160.15,475.09" stroke="#9a35c9" marker-start="url(#m4)" marker-mid="url(#m4)" marker-end="url(#m4)"/>
<polyline class="s" points="31.09,583.36 34.67,567.36 38.25,563.73 41.84,557.91 45.42,549.18 49.01,546.27 52.59,544.82 56.18,543.65 59.77,542.64 63.35,541.18 66.94,539.73 70.52,537.55 74.1,532.45 77.69,530.27 81.28,529.11 84.86,528.09 88.44,526.64 92.03,525.18 95.61,523.73 99.2,522.27 102.78,521.55 106.37,520.82 109.95,519.36 113.54,517.91 117.12,516.45 120.71,515 124.3,513.98 127.88,512.82 131.47,511.36 135.05,509.18 138.63,507.73 142.22,506.36 145.81,504.18 149.39,502.73 152.97,497.64 156.56,478.73 160.15,478" stroke="#86ff1a" marker-start="url(#m5)" marker-mid="url(#m5)" marker-end="url(#m5)"/>
<polyline class="s" points="31.09,573.91 34.67,571 38.25,556.45 41.84,547.73 45.42,542.64 49.01,539.73 52.59,536.82 56.18,533.18 59.77,529.55 63.35,527.36 66.94,525.91 70.52,524.45 74.1,523.29 77.69,522.27 81.28,521.25 84.86,520.38 88.44,519.8 92.03,518.64 95.61,517.47 99.2,516.45 102.78,515 106.37,513.98 109.95,512.82 113.54,511.65 117.12,510.64 120.71,509.62 124.3,508.45 127.88,507.29 131.47,501.27 135.05,498.36 138.63,493.27 142.22,489.64 145.81,486 149.39,478 152.97,471.45 156.56,468.55 160.15,448.91" stroke="#ff3a9c" marker-start="url(#m6)" marker-mid="url(#m6)" marker-end="url(#m6)"/>
<polyline class="s" points="31.09,539.73 34.67,539.29 38.25,539 41.84,536.09 45.42,535.36 49.01,534.64 52.59,533.91 56.18,525.62 59.77,525.18 63.35,524.45 66.94,523.73 70.52,520.82 74.1,519.8 77.69,518.64 81.28,517.91 84.86,517.18 88.44,516.02 92.03,515.73 95.61,515.44 99.2,514.56 102.78,513.55 106.37,512.09 109.95,510.64 113.54,509.18 117.12,505.64 120.71,504.18 124.3,502.73 127.88,501.71 131.47,500.55 135.05,497.64 138.63,481.64 142.22,480.91 145.81,480.18 149.39,472.18 152.97,463.45 156.56,461.27 160.15,450.36" stroke="#ff2a2a" marker-start="url(#m7)" marker-mid="url(#m7)" marker-end="url(#m7)"/>
<rect x="27.5" y="424.4" width="150" height="166.9" fill="none" stroke="#a0a0a0" stroke-width="0.7"/>
<text class="k" x="27.5" y="600.7" text-anchor="middle">0</text>
<text class="k" x="63.35" y="600.7" text-anchor="middle">10</text>
<text class="k" x="99.2" y="600.7" text-anchor="middle">20</text>
<text class="k" x="135.05" y="600.7" text-anchor="middle">30</text>
<text class="k" x="170.9" y="600.7" text-anchor="middle">40</text>
<text class="k" x="24.8" y="582.95" text-anchor="end">10</text>
<text class="k" x="24.8" y="562.92" text-anchor="end">20</text>
<text class="k" x="24.8" y="542.89" text-anchor="end">30</text>
<text class="k" x="24.8" y="522.86" text-anchor="end">40</text>
<text class="k" x="24.8" y="502.83" text-anchor="end">50</text>
<text class="k" x="24.8" y="482.8" text-anchor="end">60</text>
<text class="k" x="24.8" y="462.77" text-anchor="end">70</text>
<text class="k" x="24.8" y="442.74" text-anchor="end">80</text>
<path d="M27.5 591.3v-1.6M27.5 424.4v1.6M63.35 591.3v-1.6M63.35 424.4v1.6M99.2 591.3v-1.6M99.2 424.4v1.6M135.05 591.3v-1.6M135.05 424.4v1.6M170.9 591.3v-1.6M170.9 424.4v1.6M27.5 580.4h1.6M177.5 580.4h-1.6M27.5 560.37h1.6M177.5 560.37h-1.6M27.5 540.34h1.6M177.5 540.34h-1.6M27.5 520.31h1.6M177.5 520.31h-1.6M27.5 500.28h1.6M177.5 500.28h-1.6M27.5 480.25h1.6M177.5 480.25h-1.6M27.5 460.22h1.6M177.5 460.22h-1.6M27.5 440.19h1.6M177.5 440.19h-1.6" stroke="#a0a0a0" stroke-width="0.6" fill="none"/>
<text class="l" x="102.5" y="609.7" text-anchor="middle">Image pairs</text>
<text class="l" transform="translate(13.6 507.85) rotate(-90)" text-anchor="middle">Values of the metric</text>
<text class="t" x="102.5" y="422.3" text-anchor="middle">SD</text>
<polyline class="s" points="183.8,428.65 191.1,428.65 198.4,428.65" stroke="#35a83a" marker-mid="url(#m0)"/>
<text class="g" x="199.9" y="430.55">ADF: 28.5141</text>
<polyline class="s" points="183.8,435.75 191.1,435.75 198.4,435.75" stroke="#ffe02a" marker-mid="url(#m1)"/>
<text class="g" x="199.9" y="437.65">GTF: 39.2173</text>
<polyline class="s" points="183.8,442.85 191.1,442.85 198.4,442.85" stroke="#ff18ff" marker-mid="url(#m2)"/>
<text class="g" x="199.9" y="444.75">DenseFuse: 26.5006</text>
<polyline class="s" points="183.8,449.95 191.1,449.95 198.4,449.95" stroke="#19f3f7" marker-mid="url(#m3)"/>
<text class="g" x="199.9" y="451.85">FusionGAN: 31.9478</text>
<polyline class="s" points="183.8,457.05 191.1,457.05 198.4,457.05" stroke="#9a35c9" marker-mid="url(#m4)"/>
<text class="g" x="199.9" y="458.95">RFN-Nest: 39.0534</text>
<polyline class="s" points="183.8,464.15 191.1,464.15 198.4,464.15" stroke="#86ff1a" marker-mid="url(#m5)"/>
<text class="g" x="199.9" y="466.05">STDFusion: 36.4735</text>
<polyline class="s" points="183.8,471.25 191.1,471.25 198.4,471.25" stroke="#ff3a9c" marker-mid="url(#m6)"/>
<text class="g" x="199.9" y="473.15">TarDAL: 42.2537</text>
<polyline class="s" points="183.8,478.35 191.1,478.35 198.4,478.35" stroke="#ff2a2a" marker-mid="url(#m7)"/>
<text class="g" x="199.9" y="480.25">TDDFusion: 45.2887</text>
</g>
<g>
<polyline class="s" points="320.95,583.36 324.6,565.18 328.25,553.55 331.9,553.25 335.55,552.96 339.2,552.09 342.85,550.64 346.5,549.18 350.15,547.73 353.8,546.56 357.45,545.55 361.1,544.53 364.75,543.65 368.4,542.64 372.05,542.2 375.7,541.91 379.35,541.62 383,539.29 386.65,538.71 390.3,537 393.95,536.56 397.6,536.27 401.25,535.98 404.9,534.53 408.55,533.36 412.2,532.64 415.85,532.2 419.5,531.91 423.15,531.62 426.8,521 430.45,519.55 434.1,517.36 437.75,516.2 441.4,515.91 445.05,515.91 448.7,515.62 452.35,499.91" stroke="#35a83a" marker-start="url(#m0)" marker-mid="url(#m0)" marker-end="url(#m0)"/>
<polyline class="s" points="320.95,569.55 324.6,563 328.25,559.36 331.9,557.91 335.55,556.75 339.2,555.73 342.85,554.71 346.5,553.84 350.15,553.25 353.8,552.82 357.45,552.09 361.1,551.36 364.75,550.64 368.4,550.35 372.05,549.91 375.7,549.18 379.35,548.02 383,547.44 386.65,547 390.3,546.45 393.95,545.73 397.6,544.71 401.25,543.55 404.9,542.09 408.55,540.64 412.2,539.18 415.85,537.73 419.5,536.27 423.15,535.55 426.8,534.09 430.45,532.64 434.1,530.45 437.75,529 441.4,528.27 445.05,526.82 448.7,526.09 452.35,518.09" stroke="#ffe02a" marker-start="url(#m1)" marker-mid="url(#m1)" marker-end="url(#m1)"/>
<polyline class="s" points="320.95,561.55 324.6,560.82 328.25,554.27 331.9,551.8 335.55,550.35 339.2,549.47 342.85,548.89 346.5,548.45 350.15,547.44 353.8,546.27 357.45,545.55 361.1,545.11 364.75,544.53 368.4,543.36 372.05,542.64 375.7,542.2 379.35,541.91 383,539.73 386.65,539.29 390.3,538.02 393.95,537.44 397.6,537 401.25,536.27 404.9,535.55 408.55,534.82 412.2,533.36 415.85,532.2 419.5,531.18 423.15,529.73 426.8,528.27 430.45,526.09 434.1,523.91 437.75,522.45 441.4,518.82 445.05,518.09 448.7,516.64 452.35,502.09" stroke="#ff18ff" marker-start="url(#m2)" marker-mid="url(#m2)" marker-end="url(#m2)"/>
<polyline class="s" points="320.95,529 324.6,523.91 328.25,522.45 331.9,521.73 335.55,521 339.2,517.36 342.85,516.64 346.5,515.18 350.15,513.73 353.8,512.27 357.45,511.55 361.1,510.82 364.75,509.36 368.4,506.45 372.05,505.44 375.7,505 379.35,504.27 383,503.98 386.65,503.55 390.3,503.11 393.95,502.53 397.6,501.07 401.25,499.91 404.9,499.18 408.55,498.45 412.2,498.16 415.85,497.73 419.5,497.29 423.15,497 426.8,496.71 430.45,496.27 434.1,495.55 437.75,495.25 441.4,494.82 445.05,494.09 448.7,486.82 452.35,475.91" stroke="#19f3f7" marker-start="url(#m3)" marker-mid="url(#m3)" marker-end="url(#m3)"/>
<polyline class="s" points="320.95,560.09 324.6,559.36 328.25,557.18 331.9,555.73 335.55,555 339.2,554.27 342.85,552.09 346.5,549.91 350.15,548.45 353.8,546.27 357.45,542.64 361.1,541.62 364.75,540.75 368.4,540.45 372.05,539.73 375.7,539.29 379.35,539 383,538.71 386.65,538.27 390.3,536.27 393.95,535.11 397.6,533.65 401.25,532.64 404.9,531.62 408.55,530.75 412.2,530.16 415.85,529 419.5,527.55 423.15,522.45 426.8,521 430.45,518.82 434.1,517.07 437.75,515.18 441.4,509.36 445.05,508.64 448.7,495.55 452.35,489" stroke="#9a35c9" marker-start="url(#m4)" marker-mid="url(#m4)" marker-end="url(#m4)"/>
<polyline class="s" points="320.95,534.53 324.6,532.64 328.25,530.45 331.9,528.27 335.55,526.09 339.2,524.64 342.85,523.18 346.5,521.73 350.15,520.27 353.8,518.82 357.45,517.65 361.1,516.64 364.75,516.2 368.4,515.18 372.05,514.45 375.7,513 379.35,511.55 383,510.38 386.65,508.64 390.3,507.18 393.95,506.02 397.6,501.36 401.25,499.18 404.9,497.73 408.55,496.27 412.2,494.09 415.85,489 419.5,487.55 423.15,486.82 426.8,483.18 430.45,481 434.1,479.55 437.75,478.82 441.4,477.8 445.05,475.18 448.7,472.27 452.35,470.53" stroke="#86ff1a" marker-start="url(#m5)" marker-mid="url(#m5)" marker-end="url(#m5)"/>
<polyline class="s" points="320.95,574.2 324.6,537.73 328.25,537 331.9,536.27 335.55,535.98 339.2,535.55 342.85,534.82 346.5,533.36 350.15,531.18 353.8,529 357.45,527.55 361.1,525.8 364.75,524.64 368.4,523.91 372.05,523.18 375.7,521.73 379.35,519.55 383,518.53 386.65,517.36 390.3,515.91 393.95,514.45 397.6,513 401.25,512.27 404.9,511.55 408.55,510.38 412.2,508.64 415.85,507.47 419.5,506.45 423.15,505 426.8,503.98 430.45,503.11 434.1,502.53 437.75,501.65 441.4,501.07 445.05,499.18 448.7,496.27 452.35,489.73" stroke="#ff3a9c" marker-start="url(#m6)" marker-mid="url(#m6)" marker-end="url(#m6)"/>
<polyline class="s" points="320.95,523.18 324.6,522.02 328.25,521.44 331.9,521 335.55,520.27 339.2,515.18 342.85,514.45 346.5,513.29 350.15,512.27 353.8,511.25 357.45,509.36 361.1,507.18 364.75,504.27 368.4,502.09 372.05,499.91 375.7,499.18 379.35,498.16 383,497.29 386.65,496.71 390.3,496.27 393.95,495.55 397.6,494.09 401.25,491.91 404.9,489 408.55,486.82 412.2,486.09 415.85,485.36 419.5,484.64 423.15,483.91 426.8,483.18 430.45,481.73 434.1,479.55 437.75,478.09 441.4,475.91 445.05,474.45 448.7,470.53 452.35,468.64" stroke="#ff2a2a" marker-start="url(#m7)" marker-mid="url(#m7)" marker-end="url(#m7)"/>
<rect x="317.3" y="424.2" width="153.2" height="167.3" fill="none" stroke="#a0a0a0" stroke-width="0.7"/>
<text class="k" x="317.3" y="600.3" text-anchor="middle">0</text>
<text class="k" x="353.8" y="600.3" text-anchor="middle">10</text>
<text class="k" x="390.3" y="600.3" text-anchor="middle">20</text>
<text class="k" x="426.8" y="600.3" text-anchor="middle">30</text>
<text class="k" x="463.3" y="600.3" text-anchor="middle">40</text>
<text class="k" x="314.6" y="578.05" text-anchor="end">0.2</text>
<text class="k" x="314.6" y="548.99" text-anchor="end">0.4</text>
<text class="k" x="314.6" y="519.93" text-anchor="end">0.6</text>
<text class="k" x="314.6" y="490.87" text-anchor="end">0.8</text>
<text class="k" x="314.6" y="461.81" text-anchor="end">1</text>
<text class="k" x="314.6" y="432.75" text-anchor="end">1.2</text>
<path d="M317.3 591.5v-1.6M317.3 424.2v1.6M353.8 591.5v-1.6M353.8 424.2v1.6M390.3 591.5v-1.6M390.3 424.2v1.6M426.8 591.5v-1.6M426.8 424.2v1.6M463.3 591.5v-1.6M463.3 424.2v1.6M317.3 575.5h1.6M470.5 575.5h-1.6M317.3 546.44h1.6M470.5 546.44h-1.6M317.3 517.38h1.6M470.5 517.38h-1.6M317.3 488.32h1.6M470.5 488.32h-1.6M317.3 459.26h1.6M470.5 459.26h-1.6M317.3 430.2h1.6M470.5 430.2h-1.6" stroke="#a0a0a0" stroke-width="0.6" fill="none"/>
<text class="l" x="393.9" y="609.3" text-anchor="middle">Image pairs</text>
<text class="l" transform="translate(301.6 507.85) rotate(-90)" text-anchor="middle">Values of the metric</text>
<text class="t" x="393.9" y="422.1" text-anchor="middle">VIF</text>
<polyline class="s" points="476.6,428.45 483.9,428.45 491.2,428.45" stroke="#35a83a" marker-mid="url(#m0)"/>
<text class="g" x="492.7" y="430.35">ADF: 0.4535</text>
<polyline class="s" points="476.6,435.55 483.9,435.55 491.2,435.55" stroke="#ffe02a" marker-mid="url(#m1)"/>
<text class="g" x="492.7" y="437.45">GTF: 0.4058</text>
<polyline class="s" points="476.6,442.65 483.9,442.65 491.2,442.65" stroke="#ff18ff" marker-mid="url(#m2)"/>
<text class="g" x="492.7" y="444.55">DenseFuse: 0.4496</text>
<polyline class="s" points="476.6,449.75 483.9,449.75 491.2,449.75" stroke="#19f3f7" marker-mid="url(#m3)"/>
<text class="g" x="492.7" y="451.65">FusionGAN: 0.6827</text>
<polyline class="s" points="476.6,456.85 483.9,456.85 491.2,456.85" stroke="#9a35c9" marker-mid="url(#m4)"/>
<text class="g" x="492.7" y="458.75">RFN-Nest: 0.4759</text>
<polyline class="s" points="476.6,463.95 483.9,463.95 491.2,463.95" stroke="#86ff1a" marker-mid="url(#m5)"/>
<text class="g" x="492.7" y="465.85">STDFusion: 0.6846</text>
<polyline class="s" points="476.6,471.05 483.9,471.05 491.2,471.05" stroke="#ff3a9c" marker-mid="url(#m6)"/>
<text class="g" x="492.7" y="472.95">TarDAL: 0.5889</text>
<polyline class="s" points="476.6,478.15 483.9,478.15 491.2,478.15" stroke="#ff2a2a" marker-mid="url(#m7)"/>
<text class="g" x="492.7" y="480.05">TDDFusion: 0.7352</text>
</g>
</svg></body></html>
